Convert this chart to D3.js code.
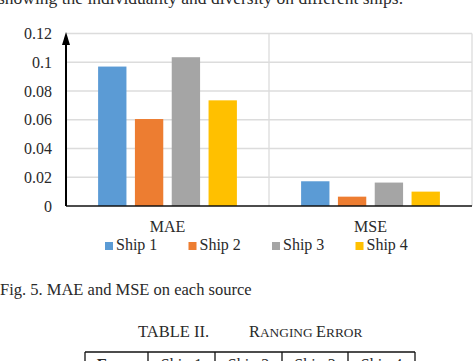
<!DOCTYPE html>
<html><head><meta charset="utf-8">
<script src="https://cdn.jsdelivr.net/npm/d3@7"></script>
<style>body{margin:0;background:#fff}svg{display:block}</style>
</head><body>
<svg id="c" width="474" height="361"></svg>
<script>
const categories = ["MAE", "MSE"];
const seriesNames = ["Ship 1", "Ship 2", "Ship 3", "Ship 4"];
const maeValues = [0.097, 0.0605, 0.1035, 0.0735];
const mseValues = [0.0172, 0.0065, 0.0163, 0.0100];
const yTicks = [0, 0.02, 0.04, 0.06, 0.08, 0.1, 0.12];
const yTickLabels = ["0", "0.02", "0.04", "0.06", "0.08", "0.1", "0.12"];
const colors = ["#5B9BD5", "#ED7D31", "#A5A5A5", "#FFC000"];
const tableHeaders = ["Error", "Ship 1", "Ship 2", "Ship 3", "Ship 4"];

(function () {
const values = {MAE: maeValues, MSE: mseValues};
const svg = d3.select("#c");
const font = "'Liberation Serif','Times New Roman',serif";
const txt = "#2a2a2a";

const pL = 66, pR = 472, pT = 33.5, pB = 206;
const y = d3.scaleLinear().domain([0, 0.12]).range([pB, pT]);
const x0 = d3.scaleBand().domain(categories).range([pL, pR]).padding(0);
const bw = x0.bandwidth();
const x1 = d3.scaleBand().domain(seriesNames)
  .range([bw / 2 - 69.4, bw / 2 + 69.4]).paddingInner(0.23).paddingOuter(0);

// top partially cut text line
svg.append("text").attr("x", -2).attr("y", 4).attr("font-family", font)
  .attr("font-size", 17.5).attr("fill", txt)
  .text("showing the individuality and diversity on different ships.");

// gridlines
const grid = svg.append("g");
grid.selectAll("line.h").data(yTicks.filter(d => d > 0)).join("line")
  .attr("x1", pL).attr("x2", pR)
  .attr("y1", d => y(d)).attr("y2", d => y(d))
  .attr("stroke", "#dcdcdc").attr("stroke-width", 1.3);
grid.selectAll("line.v").data(categories).join("line")
  .attr("x1", d => x0(d) + bw).attr("x2", d => x0(d) + bw)
  .attr("y1", pT).attr("y2", pB)
  .attr("stroke", "#dcdcdc").attr("stroke-width", 1.3);

// bars
const gcat = svg.selectAll("g.cat").data(categories).join("g")
  .attr("transform", d => `translate(${x0(d)},0)`);
gcat.selectAll("rect").data(c => values[c].map((v, i) => ({v, i}))).join("rect")
  .attr("x", d => x1(seriesNames[d.i])).attr("width", x1.bandwidth())
  .attr("y", d => y(d.v)).attr("height", d => y(0) - y(d.v))
  .attr("fill", d => colors[d.i]);

// x axis line
svg.append("line").attr("x1", pL).attr("x2", pR)
  .attr("y1", pB).attr("y2", pB)
  .attr("stroke", "#111").attr("stroke-width", 1.6);

// y axis with arrow
svg.append("line").attr("x1", pL).attr("x2", pL)
  .attr("y1", pB).attr("y2", 42)
  .attr("stroke", "#000").attr("stroke-width", 2);
svg.append("path").attr("d", `M${pL},32 L${pL - 4},45 L${pL + 4},45 Z`).attr("fill", "#000");

// y tick labels
svg.selectAll("text.yt").data(yTicks).join("text")
  .attr("x", 52).attr("y", d => y(d)).attr("dy", "0.35em")
  .attr("text-anchor", "end").attr("font-family", font).attr("font-size", 16)
  .attr("fill", txt).text((d, i) => yTickLabels[i]);

// category labels
svg.selectAll("text.cat").data(categories).join("text")
  .attr("x", d => x0(d) + bw / 2).attr("y", 231.5)
  .attr("text-anchor", "middle").attr("font-family", font).attr("font-size", 16)
  .attr("fill", txt).text(d => d);

// legend
const lx = d3.scaleBand().domain(seriesNames).range([105, 439]);
const lg = svg.selectAll("g.lg").data(seriesNames).join("g")
  .attr("transform", d => `translate(${lx(d)},0)`);
lg.append("rect").attr("x", 0).attr("y", 242).attr("width", 8).attr("height", 8)
  .attr("fill", (d, i) => colors[i]);
lg.append("text").attr("x", 11).attr("y", 250).attr("font-family", font)
  .attr("font-size", 16).attr("fill", txt).text(d => d);

// caption
svg.append("text").attr("x", 0).attr("y", 295).attr("font-family", font)
  .attr("font-size", 16.5).attr("fill", txt).text("Fig. 5. MAE and MSE on each source");

// table title
svg.append("text").attr("x", 138).attr("y", 336.5).attr("font-family", font)
  .attr("font-size", 16.5).attr("fill", txt).text("TABLE II.");
const tt = svg.append("text").attr("x", 249).attr("y", 336.5).attr("font-family", font)
  .attr("fill", txt);
tt.append("tspan").attr("font-size", 16.3).text("R");
tt.append("tspan").attr("font-size", 13.4).text("ANGING ");
tt.append("tspan").attr("font-size", 16.3).text("E");
tt.append("tspan").attr("font-size", 13.4).text("RROR");

// table header (cut off)
const colEdges = [85, 148, 215, 282, 348, 415];
svg.append("line").attr("x1", 85).attr("x2", 415).attr("y1", 352).attr("y2", 352)
  .attr("stroke", "#111").attr("stroke-width", 1.3);
svg.selectAll("line.tv").data(colEdges).join("line")
  .attr("x1", d => d).attr("x2", d => d).attr("y1", 352).attr("y2", 361)
  .attr("stroke", "#111").attr("stroke-width", 1.3);
svg.selectAll("text.th").data(tableHeaders).join("text")
  .attr("x", (d, i) => (colEdges[i] + colEdges[i + 1]) / 2).attr("y", 369.5)
  .attr("text-anchor", "middle").attr("font-family", font).attr("font-size", 16)
  .attr("font-weight", (d, i) => i === 0 ? "bold" : "normal")
  .attr("fill", txt).text(d => d);
})();
</script>
</body></html>
